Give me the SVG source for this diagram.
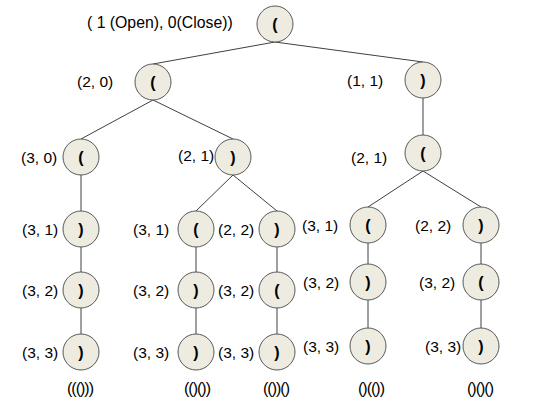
<svg xmlns="http://www.w3.org/2000/svg" width="537" height="412" viewBox="0 0 537 412">
<style>
.n{fill:#eeece1;stroke:#595959;stroke-width:1}
.p{font-family:"Liberation Sans",Arial,sans-serif;font-size:16px;font-weight:bold;fill:#000;text-anchor:middle;dominant-baseline:central}
.l{font-family:"Liberation Sans",Arial,sans-serif;font-size:15.5px;fill:#000;dominant-baseline:central}
.t{font-size:15.8px}
.b{font-family:"Liberation Sans",Arial,sans-serif;font-size:16px;fill:#000;text-anchor:middle;dominant-baseline:central;letter-spacing:-1px}
#edges line{stroke:#404040;stroke-width:1}
</style>
<rect width="537" height="412" fill="#fff"/>
<g id="edges">
<line x1="275" y1="42" x2="153" y2="64"/>
<line x1="275" y1="42" x2="423" y2="62"/>
<line x1="153" y1="100" x2="81" y2="139"/>
<line x1="153" y1="100" x2="233" y2="139"/>
<line x1="81" y1="175" x2="81" y2="211"/>
<line x1="81" y1="247" x2="81" y2="272"/>
<line x1="81" y1="308" x2="81" y2="334"/>
<line x1="233" y1="175" x2="196" y2="211"/>
<line x1="233" y1="175" x2="277" y2="211"/>
<line x1="196" y1="247" x2="196" y2="272"/>
<line x1="196" y1="308" x2="196" y2="334"/>
<line x1="277" y1="247" x2="277" y2="272"/>
<line x1="277" y1="308" x2="277" y2="334"/>
<line x1="423" y1="98" x2="423" y2="135"/>
<line x1="423" y1="171" x2="368" y2="207"/>
<line x1="423" y1="171" x2="481" y2="207"/>
<line x1="368" y1="243" x2="368" y2="264"/>
<line x1="368" y1="300" x2="368" y2="328"/>
<line x1="481" y1="243" x2="481" y2="264"/>
<line x1="481" y1="300" x2="481" y2="328"/>
</g>
<g id="root"><circle class="n" cx="275" cy="24" r="18"/><text class="p" x="275" y="24">(</text><text class="l t" x="87" y="22">( 1 (Open), 0(Close))</text></g>
<g id="n20"><circle class="n" cx="153" cy="82" r="18"/><text class="p" x="153" y="82">(</text><text class="l" x="77" y="81">(2, 0)</text></g>
<g id="n11"><circle class="n" cx="423" cy="80" r="18"/><text class="p" x="423" y="80">)</text><text class="l" x="347" y="80">(1, 1)</text></g>
<g id="n30"><circle class="n" cx="81" cy="157" r="18"/><text class="p" x="81" y="157">(</text><text class="l" x="21" y="157">(3, 0)</text></g>
<g id="n21a"><circle class="n" cx="233" cy="157" r="18"/><text class="p" x="233" y="157">)</text><text class="l" x="178" y="155">(2, 1)</text></g>
<g id="n21b"><circle class="n" cx="423" cy="153" r="18"/><text class="p" x="423" y="153">(</text><text class="l" x="351" y="157">(2, 1)</text></g>
<g id="a1"><circle class="n" cx="81" cy="229" r="18"/><text class="p" x="81" y="229">)</text><text class="l" x="22" y="229">(3, 1)</text></g>
<g id="a2"><circle class="n" cx="81" cy="290" r="18"/><text class="p" x="81" y="290">)</text><text class="l" x="22" y="290">(3, 2)</text></g>
<g id="a3"><circle class="n" cx="81" cy="352" r="18"/><text class="p" x="81" y="352">)</text><text class="l" x="22" y="352">(3, 3)</text></g>
<g id="b1"><circle class="n" cx="196" cy="229" r="18"/><text class="p" x="196" y="229">(</text><text class="l" x="133" y="229">(3, 1)</text></g>
<g id="b2"><circle class="n" cx="196" cy="290" r="18"/><text class="p" x="196" y="290">)</text><text class="l" x="133" y="290">(3, 2)</text></g>
<g id="b3"><circle class="n" cx="196" cy="352" r="18"/><text class="p" x="196" y="352">)</text><text class="l" x="133" y="352">(3, 3)</text></g>
<g id="c1"><circle class="n" cx="277" cy="229" r="18"/><text class="p" x="277" y="229">)</text><text class="l" x="218" y="229">(2, 2)</text></g>
<g id="c2"><circle class="n" cx="277" cy="290" r="18"/><text class="p" x="277" y="290">(</text><text class="l" x="218" y="290">(3, 2)</text></g>
<g id="c3"><circle class="n" cx="277" cy="352" r="18"/><text class="p" x="277" y="352">)</text><text class="l" x="218" y="352">(3, 3)</text></g>
<g id="d1"><circle class="n" cx="368" cy="225" r="18"/><text class="p" x="368" y="225">(</text><text class="l" x="302" y="225">(3, 1)</text></g>
<g id="d2"><circle class="n" cx="368" cy="282" r="18"/><text class="p" x="368" y="282">)</text><text class="l" x="303" y="282">(3, 2)</text></g>
<g id="d3"><circle class="n" cx="368" cy="346" r="18"/><text class="p" x="368" y="346">)</text><text class="l" x="303" y="346">(3, 3)</text></g>
<g id="e1"><circle class="n" cx="481" cy="225" r="18"/><text class="p" x="481" y="225">)</text><text class="l" x="415" y="225">(2, 2)</text></g>
<g id="e2"><circle class="n" cx="481" cy="282" r="18"/><text class="p" x="481" y="282">(</text><text class="l" x="419" y="282">(3, 2)</text></g>
<g id="e3"><circle class="n" cx="481" cy="346" r="18"/><text class="p" x="481" y="346">)</text><text class="l" x="425" y="346">(3, 3)</text></g>
<g id="results">
<text class="b" x="80" y="388">((()))</text>
<text class="b" x="197" y="388">(()())</text>
<text class="b" x="276" y="388">(())()</text>
<text class="b" x="371" y="388">()(())</text>
<text class="b" x="480" y="388">()()()</text>
</g>
</svg>
